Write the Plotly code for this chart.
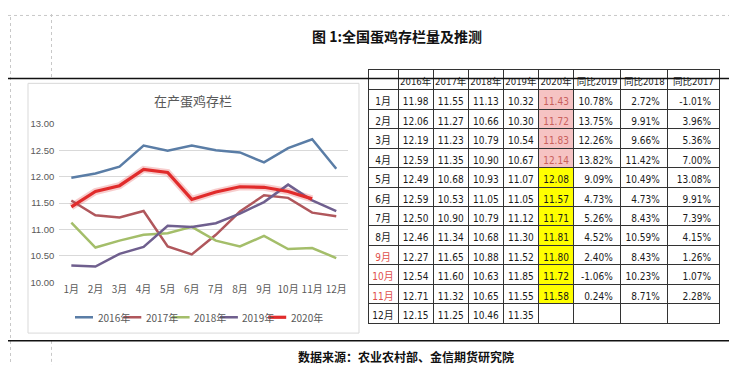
import plotly.graph_objects as go

W, H = 737, 365

months = ["1月", "2月", "3月", "4月", "5月", "6月", "7月", "8月", "9月", "10月", "11月", "12月"]
years = ["2016年", "2017年", "2018年", "2019年", "2020年"]

v2016 = [11.98, 12.06, 12.19, 12.59, 12.49, 12.59, 12.50, 12.46, 12.27, 12.54, 12.71, 12.15]
v2017 = [11.55, 11.27, 11.23, 11.35, 10.68, 10.53, 10.90, 11.34, 11.65, 11.60, 11.32, 11.25]
v2018 = [11.13, 10.66, 10.79, 10.90, 10.93, 11.05, 10.79, 10.68, 10.88, 10.63, 10.65, 10.46]
v2019 = [10.32, 10.30, 10.54, 10.67, 11.07, 11.05, 11.12, 11.30, 11.52, 11.85, 11.55, 11.35]
v2020 = [11.43, 11.72, 11.83, 12.14, 12.08, 11.57, 11.71, 11.81, 11.80, 11.72, 11.58]

yoy2019 = [10.78, 13.75, 12.26, 13.82, 9.09, 4.73, 5.26, 4.52, 2.40, -1.06, 0.24]
yoy2018 = [2.72, 9.91, 9.66, 11.42, 10.49, 4.73, 8.43, 10.59, 8.43, 10.23, 8.71]
yoy2017 = [-1.01, 3.96, 5.36, 7.00, 13.08, 9.91, 7.39, 4.15, 1.26, 1.07, 2.28]

header_labels = ["", "2016年", "2017年", "2018年", "2019年", "2020年", "同比2019", "同比2018", "同比2017"]
y_ticks = [10.0, 10.5, 11.0, 11.5, 12.0, 12.5, 13.0]

series = [v2016, v2017, v2018, v2019, v2020]
colors = ["#5A7DA6", "#B0575C", "#A4BE6A", "#6F5F8E", "#E12B2B"]
widths = [2.5, 2.5, 2.5, 2.5, 3.2]

CJK = "Noto Sans CJK SC"
TBL = "DejaVu Sans Condensed, Noto Sans CJK SC"


def px(x):
    return x / W


def py(y):
    return 1 - y / H


fig = go.Figure()

# glow under 2020 line
fig.add_trace(go.Scatter(x=months[:len(v2020)], y=v2020, mode="lines",
                         line=dict(color="rgba(230,90,90,0.30)", width=7),
                         showlegend=False, hoverinfo="skip"))
for name, vals, c, w in zip(years, series, colors, widths):
    fig.add_trace(go.Scatter(x=months[:len(vals)], y=vals, mode="lines", name=name,
                             line=dict(color=c, width=w), showlegend=False))


def f2(v):
    return "{:.2f}".format(v)


def pct(v):
    return "{:.2f}%".format(v)


col2020 = [f2(v) for v in v2020] + [""] * (12 - len(v2020))
cols = [months] + [[f2(v) for v in s] for s in series[:4]] + [col2020] + \
       [[pct(v) for v in s] + [""] * (12 - len(s)) for s in (yoy2019, yoy2018, yoy2017)]

fill = []
fontc = []
for ci in range(9):
    fc = ["white"] * 12
    tc = ["#1a1a1a"] * 12
    if ci == 0:
        for r in (8, 9, 10):
            tc[r] = "#E0504D"
    if ci == 5:
        for r in range(12):
            if r < 4:
                fc[r] = "#F6C3C3"
                tc[r] = "#C9605C"
            elif r < len(v2020):
                fc[r] = "#FFFF00"
    fill.append(fc)
    fontc.append(tc)

fig.add_trace(go.Table(
    domain=dict(x=[px(360), px(711)], y=[py(333), py(57.5)]),
    columnwidth=[30, 35, 35, 35, 35, 35, 47, 47, 51],
    header=dict(values=header_labels, height=20,
                align="center",
                fill_color="white", line=dict(color="#333333", width=1),
                font=dict(family=TBL, size=9.5, color="#1a1a1a")),
    cells=dict(values=cols, height=19.45,
               align=["center", "center", "center", "center", "center", "center", "right", "right", "right"],
               fill_color=fill, line=dict(color="#333333", width=1),
               font=dict(family=TBL, size=10, color=fontc)),
))

shapes = []
dash = dict(color="#c8c8c8", width=1, dash="dot")
shapes.append(dict(type="line", xref="paper", yref="paper", x0=px(2.5), x1=px(2.5), y0=0, y1=1, line=dash))
shapes.append(dict(type="line", xref="paper", yref="paper", x0=px(735), x1=px(735), y0=0, y1=1, line=dash))
shapes.append(dict(type="line", xref="paper", yref="paper", x0=0, x1=1, y0=py(1.5), y1=py(1.5), line=dash))
shapes.append(dict(type="line", xref="paper", yref="paper", x0=px(43.5), x1=px(43.5), y0=py(0), y1=py(66), line=dash))
shapes.append(dict(type="line", xref="paper", yref="paper", x0=px(43.5), x1=px(43.5), y0=py(337), y1=py(365), line=dash))
shapes.append(dict(type="line", xref="paper", yref="paper", x0=px(729), x1=px(729), y0=py(67), y1=py(336), line=dash))
shapes.append(dict(type="line", xref="paper", yref="paper", x0=0, x1=1, y0=py(66.5), y1=py(66.5),
                   line=dict(color="#111111", width=1.5)))
shapes.append(dict(type="line", xref="paper", yref="paper", x0=0, x1=px(735), y0=py(337), y1=py(337),
                   line=dict(color="#111111", width=1.5)))
shapes.append(dict(type="rect", xref="paper", yref="paper", x0=px(20), x1=px(351), y0=py(329), y1=py(71.5),
                   line=dict(color="#d9d9d9", width=1)))

annotations = []
for i, (name, c, w) in enumerate(zip(years, colors, widths)):
    x0 = 67 + i * 48.3
    shapes.append(dict(type="line", xref="paper", yref="paper", x0=px(x0), x1=px(x0 + 18),
                       y0=py(312.7), y1=py(312.7), line=dict(color=c, width=w)))
    annotations.append(dict(x=px(x0 + 20.5), y=py(312.7), xref="paper", yref="paper", text=name,
                            showarrow=False, xanchor="left", yanchor="middle",
                            font=dict(family=CJK, size=10, color="#595959")))

annotations.append(dict(x=px(185), y=py(89), xref="paper", yref="paper", text="在产蛋鸡存栏",
                        showarrow=False, xanchor="center", yanchor="middle",
                        font=dict(family=CJK, size=13, color="#595959")))
annotations.append(dict(x=px(389), y=py(22.5), xref="paper", yref="paper", text="<b>图 1:全国蛋鸡存栏量及推测</b>",
                        showarrow=False, xanchor="center", yanchor="middle",
                        font=dict(family=CJK, size=14, color="#111111")))
annotations.append(dict(x=px(398), y=py(353), xref="paper", yref="paper", text="<b>数据来源：农业农村部、金信期货研究院</b>",
                        showarrow=False, xanchor="center", yanchor="middle",
                        font=dict(family=CJK, size=12, color="#111111")))

fig.update_layout(
    width=W, height=H, margin=dict(l=0, r=0, t=0, b=0),
    paper_bgcolor="white", plot_bgcolor="white",
    showlegend=False, shapes=shapes, annotations=annotations,
    xaxis=dict(domain=[px(51.3), px(340.3)], type="category", range=[-0.5, 11.5],
               showgrid=False, showline=False, zeroline=False, ticks="", tickangle=0,
               tickfont=dict(family=CJK, size=10, color="#595959"), fixedrange=True),
    yaxis=dict(domain=[py(276.7), py(113.3)], range=[10, 13], tickvals=y_ticks, tickformat=".2f",
               showgrid=True, gridcolor="#d9d9d9", gridwidth=1, zeroline=False, showline=False,
               ticks="", ticklabelstandoff=4,
               tickfont=dict(family="Liberation Sans, Noto Sans", size=9.5, color="#595959"), fixedrange=True),
)

fig.write_html("out.html")
